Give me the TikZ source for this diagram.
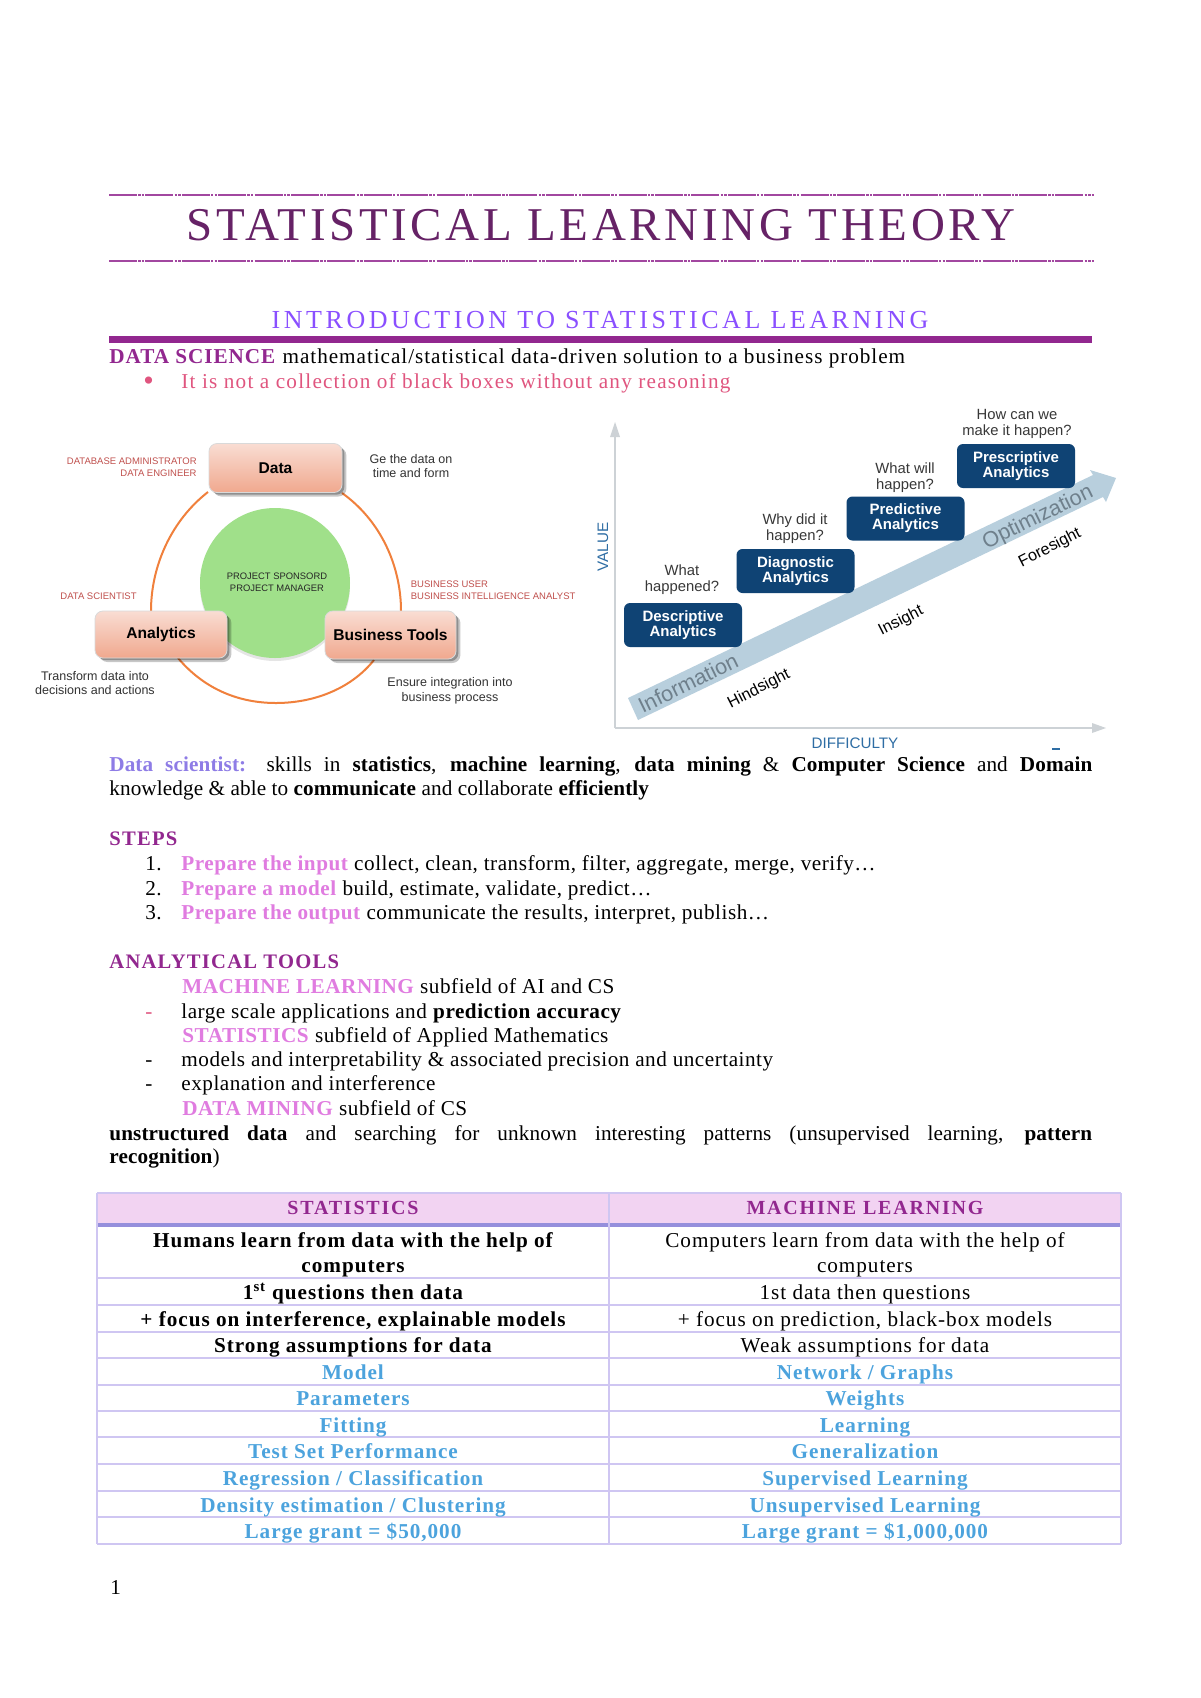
\documentclass[tikz,border=0pt]{standalone}
\usepackage{fontspec}
\usetikzlibrary{shadows}
\setmainfont{Liberation Serif}
\newfontfamily\ars{Liberation Sans}
\newfontfamily\bodyf[LetterSpace=2.4]{Liberation Serif}
\newfontfamily\upf[LetterSpace=4.5]{Liberation Serif}
\newfontfamily\nbf[LetterSpace=5.7]{Liberation Serif}
\newfontfamily\knowf[LetterSpace=0.5]{Liberation Serif}
\newfontfamily\widef[LetterSpace=6]{Liberation Serif}
\newfontfamily\headf[LetterSpace=9]{Liberation Serif}
\newfontfamily\titlef[LetterSpace=7.8]{Liberation Serif}
\newfontfamily\secf[LetterSpace=13.7]{Liberation Serif}
\definecolor{plum}{HTML}{92278F}
\definecolor{darkplum}{HTML}{662266}
\definecolor{violetx}{HTML}{8A4FFF}
\definecolor{orchidx}{HTML}{E07CE0}
\definecolor{rosex}{HTML}{E0557F}
\definecolor{lavx}{HTML}{8E7CE6}
\definecolor{gridx}{HTML}{CFC6F2}
\definecolor{headx}{HTML}{F2D3F2}
\definecolor{bluex}{HTML}{4CA3DD}
\definecolor{navyx}{HTML}{0F4374}
\definecolor{arrowx}{HTML}{B8CFDD}
\definecolor{flowtx}{HTML}{6F808C}
\definecolor{axisx}{HTML}{CDD2D6}
\definecolor{redx}{HTML}{C0504D}
\definecolor{orangex}{HTML}{F0803C}
\definecolor{greenx}{HTML}{A0E08A}
\definecolor{axtext}{HTML}{2E6DA4}
\definecolor{F9DDD3}{HTML}{F9DDD3}
\definecolor{F0A88E}{HTML}{F0A88E}
\tikzset{
  txt/.style={anchor=base west,inner sep=0pt,font=\bodyf\fontsize{10.6}{13}\selectfont},
  ctxt/.style={anchor=base,inner sep=0pt,font=\upf\fontsize{10.6}{13}\selectfont},
  heads/.style={ctxt,font=\headf\bfseries\fontsize{10}{13}\selectfont},
  cellb/.style={ctxt,font=\upf\bfseries\fontsize{10.6}{13}\selectfont},
  cellblue/.style={ctxt,text=bluex,font=\upf\bfseries\fontsize{10.6}{13}\selectfont},
  peach/.style={draw=black!15,line width=.4pt,rounded corners=4pt,top color=F9DDD3,bottom color=F0A88E,inner sep=0pt,
    font=\ars\bfseries\fontsize{7.8}{9}\selectfont,
    drop shadow={shadow xshift=2.2pt,shadow yshift=-2pt,opacity=.22,fill=black},
    drop shadow={shadow xshift=1.2pt,shadow yshift=-1.1pt,opacity=.28,fill=black}},
  navybox/.style={fill=navyx,rounded corners=3pt,inner sep=0pt,text=white,align=center,minimum width=59pt,minimum height=22pt,
    font=\ars\bfseries\fontsize{7.5}{7.6}\selectfont},
  q/.style={inner sep=0pt,align=center,text=black!78,font=\ars\fontsize{7.4}{8}\selectfont},
  red/.style={inner sep=0pt,text=redx,font=\ars\fontsize{4.75}{6}\selectfont},
  note/.style={inner sep=0pt,align=center,text=black!80,font=\ars\fontsize{6.25}{7.4}\selectfont},
  hind/.style={inner sep=0pt,rotate=27,font=\ars\fontsize{8.1}{9}\selectfont},
  flow/.style={inner sep=0pt,rotate=26,text=flowtx,font=\ars\fontsize{10.8}{12}\selectfont},
  axlab/.style={inner sep=0pt,text=axtext,font=\ars\fontsize{7.6}{9}\selectfont},
  rulex/.style={draw=plum!85,line width=.9pt,dash pattern=on 14pt off .6pt on 1.2pt off .6pt on 1.2pt off .6pt},
  grid/.style={draw=gridx,line width=1.2pt},
}
\begin{document}
\begin{tikzpicture}[x=0.5pt,y=-0.5pt]
\path[use as bounding box,fill=white] (0,0) rectangle (1200,1698);
% title
\coordinate (r1a) at (109,195); \coordinate (r1b) at (1094,195);
\coordinate (r2a) at (109,261); \coordinate (r2b) at (1094,261);
\draw[rulex] (r1a) -- (r1b);
\draw[rulex] (r2a) -- (r2b);
\node[anchor=base,inner sep=0pt,text=darkplum,font=\titlef\fontsize{23.5}{26}\selectfont] (title) at (601,240) {STATISTICAL LEARNING THEORY};
\node[anchor=base,inner sep=0pt,text=violetx,font=\secf\fontsize{13}{15}\selectfont] (sec) at (600,328) {INTRODUCTION TO STATISTICAL LEARNING};
\fill[plum] (109,335.5) rectangle (1092,343);
\node[txt,font=\upf\fontsize{10.6}{13}\selectfont] (ds) at (109,363) {\textcolor{plum}{\textbf{DATA SCIENCE}} mathematical/statistical data-driven solution to a business problem};
\node[txt,text=rosex,font=\rmfamily\fontsize{15}{15}\selectfont] (bul) at (143,390) {•};
\node[txt,text=rosex,font=\nbf\fontsize{10.6}{13}\selectfont] (nb) at (181,388) {It is not a collection of black boxes without any reasoning};
% left diagram
\draw[orangex,line width=1pt] (208,492) .. controls (172,520) and (151,565) .. (151,611);
\draw[orangex,line width=1pt] (342,493) .. controls (380,520) and (401,565) .. (401,611);
\draw[orangex,line width=1pt] (178,658) .. controls (205,690) and (240,703) .. (276,703) .. controls (312,703) and (350,690) .. (374,660);
\fill[black,opacity=.1] (275,586) circle (75);
\node[circle,fill=greenx,minimum size=75pt,inner sep=0pt] (core) at (275,583) {};
\node[inner sep=0pt,align=center,text=black!85,font=\ars\fontsize{4.7}{6}\selectfont] (corelabel) at (277,582) {PROJECT SPONSORD\\PROJECT MANAGER};
\node[peach,minimum width=66.5pt,minimum height=24.5pt] (data) at (275.5,468) {Data};
\node[peach,minimum width=66pt,minimum height=23.5pt] (an) at (161,634.5) {Analytics};
\node[peach,minimum width=65.5pt,minimum height=24pt] (bt) at (390.5,635) {Business Tools};
\node[red,align=right,anchor=east] (r1) at (197,467) {DATABASE ADMINISTRATOR\\DATA ENGINEER};
\node[red,anchor=east] (r2) at (137,596) {DATA SCIENTIST};
\node[red,align=left,anchor=west] (r3) at (410.5,590) {BUSINESS USER\\BUSINESS INTELLIGENCE ANALYST};
\node[note] (n1) at (411,466) {Ge the data on\\time and form};
\node[note] (n2) at (95,683) {Transform data into\\decisions and actions};
\node[note] (n3) at (450,691) {Ensure integration into\\business process};
% right diagram
\coordinate (ax0) at (615,728); \coordinate (axv) at (615,425); \coordinate (axh) at (1104,728);
\draw[axisx,line width=1.3pt] (ax0) -- (axv);
\draw[axisx,line width=1.3pt] (ax0) -- (axh);
\fill[axisx] (615,422) -- (610,437) -- (620,437) -- cycle;
\fill[axisx] (1106,728) -- (1092,723) -- (1092,733) -- cycle;
\node[axlab,rotate=90] (val) at (603,547) {VALUE};
\node[axlab] (dif) at (855,743) {DIFFICULTY};
\coordinate (dsa) at (1052,749); \coordinate (dsb) at (1060,749);
\draw[axtext,line width=1pt] (dsa) -- (dsb);
\fill[arrowx] (628,698) -- (1093,475) -- (1090,470) -- (1116,478) -- (1106,502) -- (1103,497) -- (638,720) -- cycle;
\node[flow] (info) at (688,683) {Information};
\node[flow] (opt) at (1038,518) {Optimization};
\node[hind] (h1) at (759,689) {Hindsight};
\node[hind] (h2) at (901,621) {Insight};
\node[hind] (h3) at (1050,548) {Foresight};
\node[navybox] (b1) at (683,625) {Descriptive\\Analytics};
\node[navybox] (b2) at (795.5,571) {Diagnostic\\Analytics};
\node[navybox] (b3) at (905.5,518.5) {Predictive\\Analytics};
\node[navybox] (b4) at (1016,466) {Prescriptive\\Analytics};
\node[q] (q1) at (682,580) {What\\happened?};
\node[q] (q2) at (795,529) {Why did it\\happen?};
\node[q] (q3) at (905,477.5) {What will\\happen?};
\node[q] (q4) at (1017,424) {How can we\\make it happen?};
% body
\node[txt,font=\knowf\fontsize{10.6}{13}\selectfont] (l1) at (109,771) {\makebox[491.5pt][s]{\textcolor{lavx}{\textbf{Data scientist:}} skills in \textbf{statistics}, \textbf{machine learning}, \textbf{data mining} \& \textbf{Computer Science} and \textbf{Domain}}};
\node[txt,font=\knowf\fontsize{10.6}{13}\selectfont] (l2) at (109,795) {knowledge \& able to \textbf{communicate} and collaborate \textbf{efficiently}};
\node[txt,text=plum,font=\widef\bfseries\fontsize{10.3}{13}\selectfont] (st) at (109,845) {STEPS};
\node[txt] (n1x) at (145,870) {1.};
\node[txt] (s1) at (181,870) {\textcolor{orchidx}{\textbf{Prepare the input}} collect, clean, transform, filter, aggregate, merge, verify…};
\node[txt] (n2x) at (145,895) {2.};
\node[txt] (s2) at (181,895) {\textcolor{orchidx}{\textbf{Prepare a model}} build, estimate, validate, predict…};
\node[txt] (n3x) at (145,919) {3.};
\node[txt] (s3) at (181,919) {\textcolor{orchidx}{\textbf{Prepare the output}} communicate the results, interpret, publish…};
\node[txt,text=plum,font=\widef\bfseries\fontsize{10.3}{13}\selectfont] (at) at (109,968) {ANALYTICAL TOOLS};
\node[txt] (a1) at (182,993) {\textcolor{orchidx}{\textbf{MACHINE LEARNING}} subfield of AI and CS};
\node[txt,text=rosex] (d1) at (145,1018) {-};
\node[txt] (a2) at (181,1018) {large scale applications and \textbf{prediction accuracy}};
\node[txt] (a3) at (182,1042) {\textcolor{orchidx}{\textbf{STATISTICS}} subfield of Applied Mathematics};
\node[txt] (d2) at (145,1066) {-};
\node[txt] (a4) at (181,1066) {models and interpretability \& associated precision and uncertainty};
\node[txt] (d3) at (145,1090) {-};
\node[txt] (a5) at (181,1090) {explanation and interference};
\node[txt] (a6) at (182,1115) {\textcolor{orchidx}{\textbf{DATA MINING}} subfield of CS};
\node[txt,font=\knowf\fontsize{10.6}{13}\selectfont] (a7) at (109,1140) {\makebox[491.5pt][s]{\textbf{unstructured data} and searching for unknown interesting patterns (unsupervised learning, \textbf{pattern}}};
\node[txt,font=\knowf\fontsize{10.6}{13}\selectfont] (a8) at (109,1163) {\textbf{recognition})};
% table
\fill[headx] (97,1193) rectangle (1121,1225);
\foreach \yy in {1193,1278,1305,1332,1358,1385,1411,1437,1464,1491,1517,1544} \draw[grid] (97,\yy) -- (1121,\yy);
\draw[gridx!80!blue!90!black,line width=2pt] (97,1225) -- (1121,1225);
\draw[grid] (97,1193) -- (97,1544);
\draw[grid] (609,1193) -- (609,1544);
\draw[grid] (1121,1193) -- (1121,1544);
\node[heads,text=plum] (c1) at (353,1214) {STATISTICS};
\node[heads,text=plum] (c2) at (865,1214) {MACHINE LEARNING};
\node[cellb] (t1) at (353,1247) {Humans learn from data with the help of};
\node[cellb] (t1b) at (353,1272) {computers};
\node[ctxt] (u1) at (865,1247) {Computers learn from data with the help of};
\node[ctxt] (u1b) at (865,1272) {computers};
\node[cellb] (t2) at (353,1299) {1\textsuperscript{st} questions then data};
\node[ctxt] (u2) at (865,1299) {1st data then questions};
\node[cellb] (t3) at (353,1326) {+ focus on interference, explainable models};
\node[ctxt] (u3) at (865,1326) {+ focus on prediction, black-box models};
\node[cellb] (t4) at (353,1352) {Strong assumptions for data};
\node[ctxt] (u4) at (865,1352) {Weak assumptions for data};
\node[cellblue] (t5) at (353,1379) {Model};
\node[cellblue] (u5) at (865,1379) {Network / Graphs};
\node[cellblue] (t6) at (353,1405) {Parameters};
\node[cellblue] (u6) at (865,1405) {Weights};
\node[cellblue] (t7) at (353,1432) {Fitting};
\node[cellblue] (u7) at (865,1432) {Learning};
\node[cellblue] (t8) at (353,1458) {Test Set Performance};
\node[cellblue] (u8) at (865,1458) {Generalization};
\node[cellblue] (t9) at (353,1485) {Regression / Classification};
\node[cellblue] (u9) at (865,1485) {Supervised Learning};
\node[cellblue] (t10) at (353,1512) {Density estimation / Clustering};
\node[cellblue] (u10) at (865,1512) {Unsupervised Learning};
\node[cellblue] (t11) at (353,1538) {Large grant = \$50,000};
\node[cellblue] (u11) at (865,1538) {Large grant = \$1,000,000};
\node[txt] (pg) at (110,1594) {1};
\end{tikzpicture}
\end{document}
